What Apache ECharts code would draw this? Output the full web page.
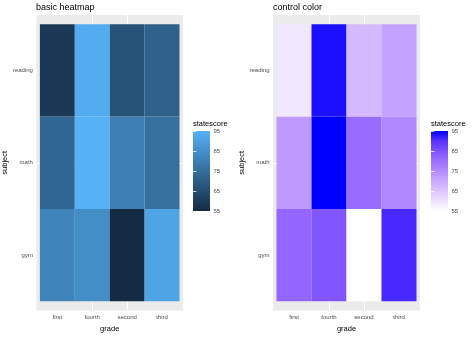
<!DOCTYPE html>
<html><head><meta charset="utf-8">
<script src="https://cdn.jsdelivr.net/npm/echarts@6/dist/echarts.min.js"></script>
<style>html,body{margin:0;padding:0;background:#fff}#c{width:474px;height:338px}</style>
</head><body><div id="c"></div>
<script>
// ---- data ----
const grades = ['first', 'fourth', 'second', 'third'];
const subjects = ['gym', 'math', 'reading'];
const scoreGym = [81.5, 84.5, 55, 91];
const scoreMath = [72.5, 95, 80.5, 75.5];
const scoreReading = [59, 93.5, 67, 71];
const legendTicks = [55, 65, 75, 85, 95];
const panelTitles = ['basic heatmap', 'control color'];
const legendTitle = 'statescore';
const xTitle = 'grade';
const yTitle = 'subject';

// ---- styles ----
const rampBasic = ['#132B43', '#56B1F7'];
const rampControl = ['#FFFFFF', '#EEE2FF', '#DCC4FF', '#C8A8FF', '#B38BFF', '#9B6FFF', '#7E52FF', '#5932FF', '#0000FF'];
const FONT = 'Liberation Sans';

const rows = [scoreGym, scoreMath, scoreReading];
const cells = [];
rows.forEach((r, yi) => r.forEach((v, xi) => cells.push([xi, yi, v])));
const allVals = cells.map(c => c[2]);
const vMin = Math.min(...allVals), vMax = Math.max(...allVals);

const panelLeft = [36, 273];
const legendLeft = [193, 431];

const grid = [], xAxis = [], yAxis = [], series = [], visualMap = [], title = [];
const ramps = [rampBasic, rampControl];

function tileRender(params, api) {
  const x = api.value(0), y = api.value(1);
  const p0 = api.coord([x - 0.5, y + 0.5]);
  const p1 = api.coord([x + 0.5, y - 0.5]);
  return {type: 'rect', shape: {x: p0[0], y: p0[1], width: p1[0] - p0[0], height: p1[1] - p0[1]},
          style: {fill: api.visual('color')}};
}

function barRender(ramp) {
  return function (params, api) {
    const lo = api.value(1), hi = api.value(2);
    const p0 = api.coord([0, hi]);
    const p1 = api.coord([1, lo]);
    const stops = ramp.slice().reverse().map((c, k, arr) => ({offset: k / (arr.length - 1), color: c}));
    return {type: 'rect', shape: {x: p0[0], y: p0[1], width: p1[0] - p0[0], height: p1[1] - p0[1]},
            style: {fill: new echarts.graphic.LinearGradient(0, 0, 0, 1, stops)}};
  };
}

for (let i = 0; i < 2; i++) {
  grid.push({left: panelLeft[i], top: 15, width: 147, height: 301, show: true,
             backgroundColor: '#EBEBEB', borderWidth: 0});
  xAxis.push({
    gridIndex: i, type: 'value', min: -0.6, max: grades.length - 0.4, splitNumber: 4,
    axisLine: {show: false},
    axisTick: {show: true, length: 2.2, lineStyle: {color: '#333', width: 0.7}, customValues: grades.map((_, k) => k)},
    axisLabel: {customValues: grades.map((_, k) => k), formatter: v => grades[Math.round(v)] || '',
                fontSize: 6, color: '#4D4D4D', margin: 3.5, fontFamily: FONT},
    splitLine: {show: true, showMinLine: false, showMaxLine: false, lineStyle: {color: '#fff', width: 1}},
    name: xTitle, nameLocation: 'middle', nameGap: 11.5,
    nameTextStyle: {fontSize: 7.5, color: '#000', fontFamily: FONT}
  });
  yAxis.push({
    gridIndex: i, type: 'value', min: -0.6, max: subjects.length - 0.4, splitNumber: 3,
    axisLine: {show: false},
    axisTick: {show: true, length: 2.2, lineStyle: {color: '#333', width: 0.7}, customValues: subjects.map((_, k) => k)},
    axisLabel: {customValues: subjects.map((_, k) => k), formatter: v => subjects[Math.round(v)] || '',
                fontSize: 6, color: '#4D4D4D', margin: 3.5, fontFamily: FONT},
    splitLine: {show: true, showMinLine: false, showMaxLine: false, lineStyle: {color: '#fff', width: 1}},
    name: yTitle, nameLocation: 'middle', nameGap: 21,
    nameTextStyle: {fontSize: 7.5, color: '#000', fontFamily: FONT}
  });
  series.push({type: 'custom', xAxisIndex: i, yAxisIndex: i, data: cells, encode: {x: 0, y: 1},
               renderItem: tileRender, silent: true});
  visualMap.push({type: 'continuous', show: false, min: vMin, max: vMax, dimension: 2, seriesIndex: i,
                  inRange: {color: ramps[i]}});
  title.push({text: panelTitles[i], left: panelLeft[i], top: 3, padding: 0,
              textStyle: {fontSize: 9, fontWeight: 'normal', color: '#000', fontFamily: FONT}});
}

for (let i = 0; i < 2; i++) {
  const g = 2 + i;
  grid.push({left: legendLeft[i], top: 131, width: 17, height: 80, show: false});
  xAxis.push({gridIndex: g, type: 'value', min: 0, max: 1, show: false});
  const yi = yAxis.length;
  const tickStyle = {show: true, inside: true, length: 3.4, lineStyle: {color: '#fff', width: 0.8},
                     customValues: legendTicks};
  yAxis.push({gridIndex: g, type: 'value', min: legendTicks[0], max: legendTicks[legendTicks.length - 1],
              position: 'right', z: 5, axisLine: {show: false}, splitLine: {show: false},
              axisTick: tickStyle,
              axisLabel: {customValues: legendTicks, fontSize: 6, color: '#4D4D4D', margin: 3.5, fontFamily: FONT}});
  yAxis.push({gridIndex: g, type: 'value', min: legendTicks[0], max: legendTicks[legendTicks.length - 1],
              position: 'left', z: 5, axisLine: {show: false}, splitLine: {show: false},
              axisTick: tickStyle, axisLabel: {show: false}});
  series.push({type: 'custom', xAxisIndex: g, yAxisIndex: yi, silent: true,
               data: [[0, legendTicks[0], legendTicks[legendTicks.length - 1]]],
               encode: {x: 0, y: [1, 2]}, renderItem: barRender(ramps[i])});
  title.push({text: legendTitle, left: legendLeft[i], top: 120, padding: 0,
              textStyle: {fontSize: 7.5, fontWeight: 'normal', color: '#000', fontFamily: FONT}});
}

const chart = echarts.init(document.getElementById('c'), null, {renderer: 'canvas'});
chart.setOption({
  animation: false,
  textStyle: {fontFamily: FONT},
  title, grid, xAxis, yAxis, series, visualMap
});
</script>
</body></html>
